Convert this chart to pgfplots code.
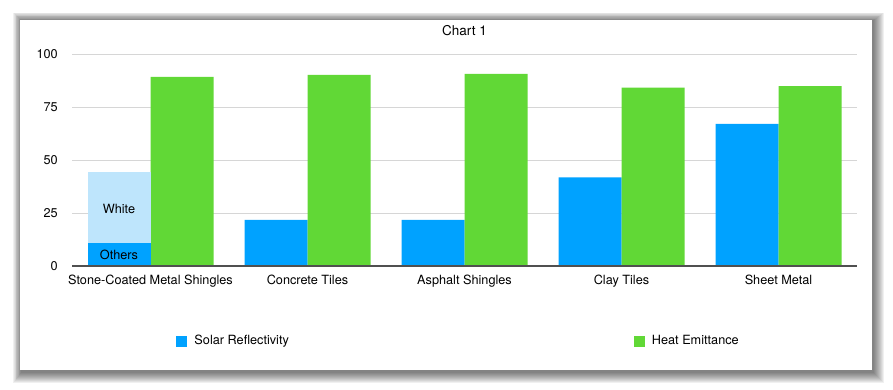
\documentclass[border=0pt]{standalone}
\usepackage{pgfplots}
\pgfplotsset{compat=1.18}
\usepackage{fontspec}
\setmainfont{TeX Gyre Heros}
\definecolor{cblue}{RGB}{0,162,255}
\definecolor{cgreen}{RGB}{97,216,54}
\definecolor{clight}{RGB}{190,229,252}
\definecolor{cgrid}{RGB}{214,214,214}
\definecolor{caxis}{RGB}{80,80,80}
\begin{document}
\begin{tikzpicture}[x=1pt,y=1pt]
\useasboundingbox (0,0) rectangle (893,389);
\foreach \i in {1,...,11} {
  \fill[black,opacity=0.06] ({20-0.75*\i+1.5},{19-\i-1.5}) rectangle ({872+\i+1},{369+0.75*\i-1});
}
\fill[white] (20,19) rectangle (872,369);
\begin{axis}[
  at={(72pt,123pt)}, anchor=south west,
  scale only axis, width=785pt, height=212pt,
  xmin=-0.5, xmax=4.5, ymin=0, ymax=100,
  ybar=0pt, bar width=63pt,
  xtick={0,1,2,3,4},
  xticklabels={Stone-Coated Metal Shingles, Concrete Tiles, Asphalt Shingles, Clay Tiles, Sheet Metal},
  ytick={0,25,50,75,100},
  ymajorgrids, grid style={cgrid, line width=0.8pt},
  major tick length=0pt,
  axis line style={draw=none},
  tick label style={font=\fontsize{12.7}{14}\selectfont},
  /pgf/number format/assume math mode=true,
  yticklabel style={anchor=east, inner sep=0pt, xshift=-14pt},
  xticklabel style={anchor=north, inner sep=0pt, yshift=-9pt},
  title={Chart 1},
  title style={font=\fontsize{13.5}{15}\selectfont, at={(0.5,1)}, anchor=center, yshift=17pt},
  legend columns=2,
  legend image code/.code={\fill[#1] (0pt,-5.5pt) rectangle (11pt,5.5pt);},
  legend style={at={(0.4925,-0.354)}, anchor=center, draw=none, fill=none,
    font=\fontsize{12.7}{14}\selectfont,
    nodes={text height=9pt, text depth=3pt},
    /tikz/every odd column/.append style={column sep=5pt},
    /tikz/every even column/.append style={column sep=343pt}},
]
\addplot[fill=cblue, draw=none, bar shift=-31.5pt] coordinates {(1,21.7) (2,21.7) (3,41.8) (4,67)};
\addplot[fill=cgreen, draw=none, bar shift=31.5pt] coordinates {(0,89.2) (1,90.1) (2,90.6) (3,84.1) (4,84.8)};
\addplot[fill=clight, draw=none, bar shift=-31.5pt, forget plot] coordinates {(0,44.3)};
\addplot[fill=cblue, draw=none, bar shift=-31.5pt, forget plot] coordinates {(0,10.8)};
\legend{Solar Reflectivity, Heat Emittance}
\draw[caxis, line width=1.5pt] (rel axis cs:0,0) -- (rel axis cs:1,0);
\node[font=\fontsize{12.7}{14}\selectfont] at (axis cs:0,27) [xshift=-31.5pt] {White};
\node[font=\fontsize{12.7}{14}\selectfont] at (axis cs:0,5.2) [xshift=-31.5pt] {Others};
\end{axis}
\end{tikzpicture}
\end{document}
